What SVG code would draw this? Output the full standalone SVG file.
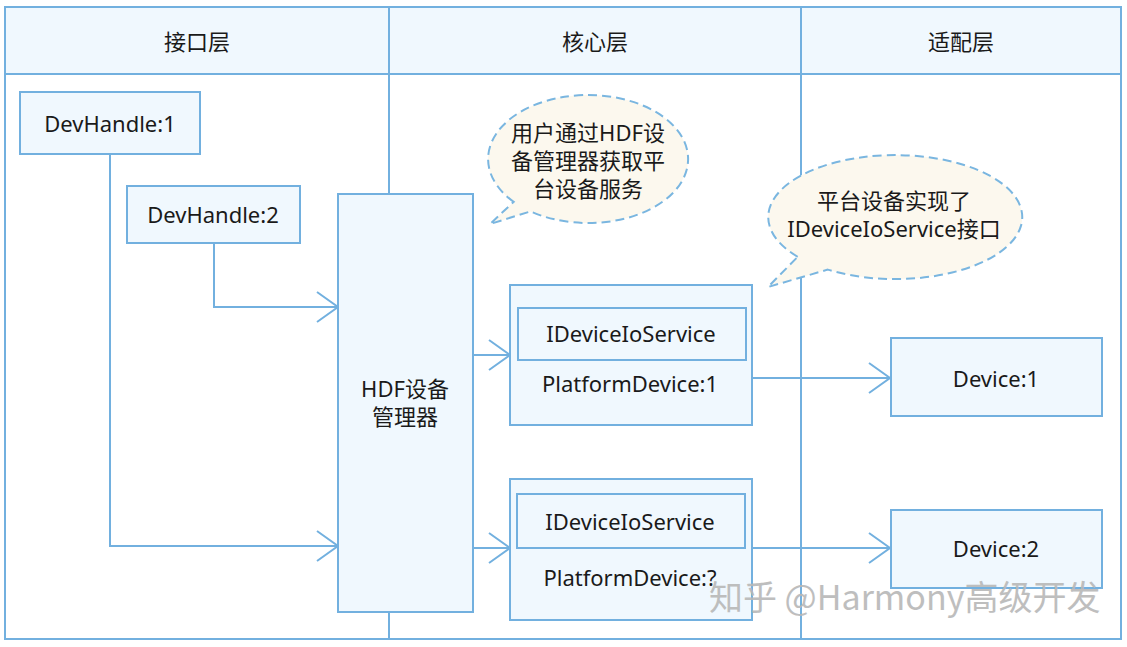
<svg xmlns="http://www.w3.org/2000/svg" width="1127" height="647" viewBox="0 0 1127 647">
<style>
.ln{stroke:#72b0df;stroke-width:2;fill:none}
.box{stroke:#72b0df;stroke-width:2;fill:#f0f8fe}
.hdr{fill:#f0f8fe}
.t{font-family:"Noto Sans","Noto Sans CJK SC",sans-serif;font-size:22px;fill:#1a1a1a;text-anchor:middle;dominant-baseline:central}
.bub{stroke:#7ab6e0;stroke-width:2;stroke-dasharray:9 5;fill:#fcf8ee}
.wm{font-family:"Noto Sans CJK SC",sans-serif;font-size:34px;fill:#b8b8b8;opacity:0.9}
</style>
<defs>
<marker id="ah" markerUnits="userSpaceOnUse" markerWidth="26" markerHeight="36" viewBox="-23 -17 26 34" refX="0" refY="0" orient="auto">
<path d="M-21,-15 L0,0 L-21,15" fill="none" stroke="#72b0df" stroke-width="2"/>
</marker>
</defs>
<rect width="1127" height="647" fill="#ffffff"/>
<g id="frame">
<rect class="hdr" x="5" y="7" width="1116" height="67"/>
<rect class="ln" x="5" y="7" width="1116" height="632"/>
<line class="ln" x1="5" y1="74" x2="1121" y2="74"/>
<line class="ln" x1="389" y1="7" x2="389" y2="639"/>
<line class="ln" x1="801" y1="7" x2="801" y2="639"/>
<text class="t" x="197" y="41">接口层</text>
<text class="t" x="595" y="41">核心层</text>
<text class="t" x="961" y="41">适配层</text>
</g>
<g id="connectors">
<polyline class="ln" points="110,154 110,546 338,546" marker-end="url(#ah)"/>
<polyline class="ln" points="214,243 214,307 338,307" marker-end="url(#ah)"/>
<line class="ln" x1="473" y1="355" x2="510" y2="355" marker-end="url(#ah)"/>
<line class="ln" x1="473" y1="548" x2="510" y2="548" marker-end="url(#ah)"/>
<line class="ln" x1="752" y1="378" x2="890" y2="378" marker-end="url(#ah)"/>
<line class="ln" x1="752" y1="548" x2="890" y2="548" marker-end="url(#ah)"/>
</g>
<g id="devhandle1">
<rect class="box" x="20" y="92" width="180" height="62"/>
<text class="t" x="110" y="123">DevHandle:1</text>
</g>
<g id="devhandle2">
<rect class="box" x="127" y="186" width="173" height="57"/>
<text class="t" x="213" y="214">DevHandle:2</text>
</g>
<g id="hdf">
<rect class="box" x="338" y="194" width="135" height="418"/>
<text class="t" x="405" y="388">HDF设备</text>
<text class="t" x="405" y="416">管理器</text>
</g>
<g id="platform1">
<rect class="box" x="510" y="285" width="242" height="140"/>
<rect class="box" x="518" y="308" width="228" height="52"/>
<text class="t" x="631" y="333">IDeviceIoService</text>
<text class="t" x="630" y="383">PlatformDevice:1</text>
</g>
<g id="platform2">
<rect class="box" x="510" y="479" width="242" height="141"/>
<rect class="box" x="517" y="494" width="228" height="54"/>
<text class="t" x="630" y="521">IDeviceIoService</text>
<text class="t" x="630" y="577">PlatformDevice:?</text>
</g>
<g id="device1">
<rect class="box" x="891" y="338" width="211" height="78"/>
<text class="t" x="996" y="378">Device:1</text>
</g>
<g id="device2">
<rect class="box" x="891" y="510" width="211" height="78"/>
<text class="t" x="996" y="548">Device:2</text>
</g>
<g id="callout1">
<path class="bub" d="M513.7,201.8 A100,64 0 1 1 530.6,211.4 L490,224 Z"/>
<text class="t" x="588" y="132">用户通过HDF设</text>
<text class="t" x="588" y="160">备管理器获取平</text>
<text class="t" x="588" y="188">台设备服务</text>
</g>
<g id="callout2">
<path class="bub" d="M797.7,256.8 A127,62 0 1 1 827.7,269.6 L768,287 Z"/>
<text class="t" x="894" y="200">平台设备实现了</text>
<text class="t" x="894" y="228">IDeviceIoService接口</text>
</g>
<text class="wm" x="709" y="610">知乎 @Harmony高级开发</text>
</svg>
